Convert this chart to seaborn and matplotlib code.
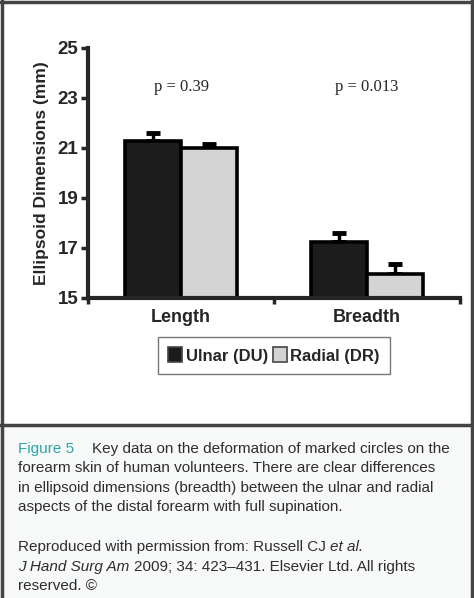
import numpy as np
import pandas as pd
import seaborn as sns
import matplotlib.pyplot as plt
from matplotlib.patches import Patch
from matplotlib.lines import Line2D

categories = ['Length', 'Breadth']
sides = ['Ulnar (DU)', 'Radial (DR)']
ulnar_vals = [21.3, 17.25]
radial_vals = [21.0, 15.95]
ulnar_err = [0.3, 0.35]
radial_err = [0.15, 0.4]
p_labels = ['p = 0.39', 'p = 0.013']

df = pd.DataFrame({
    'dimension': categories * 2,
    'side': [sides[0]] * 2 + [sides[1]] * 2,
    'value': ulnar_vals + radial_vals,
})

sns.set_style('ticks')
plt.rcParams['font.family'] = ['Liberation Sans', 'DejaVu Sans']

fig = plt.figure(figsize=(4.74, 5.98), dpi=100)
W, H = 474, 598
ax = fig.add_axes([88 / W, 1 - 298 / H, (460 - 88) / W, (298 - 48) / H])

colors = {sides[0]: '#1c1c1c', sides[1]: '#d4d4d4'}
sns.barplot(data=df, x='dimension', y='value', hue='side', order=categories,
            hue_order=sides, palette=colors, width=0.6, edgecolor='black',
            linewidth=2.6, legend=False, ax=ax, zorder=3)

# bars are ordered hue-by-hue
errs = ulnar_err + radial_err
vals = ulnar_vals + radial_vals
for patch, v, e in zip(ax.patches, vals, errs):
    xc = patch.get_x() + patch.get_width() / 2
    ax.errorbar(xc, v, yerr=[[0], [e]], fmt='none', ecolor='black',
                elinewidth=2.5, capsize=5, capthick=3.5, zorder=2)

ax.set_ylim(15, 25)
ax.set_xlim(-0.5, 1.5)
ax.set_yticks([15, 17, 19, 21, 23, 25])
ax.set_ylabel('Ellipsoid Dimensions (mm)', fontsize=12.5, fontweight='bold',
              labelpad=6)
ax.set_xlabel('')
ax.set_xticks([0, 1])
ax.set_xticklabels(categories, fontsize=13, fontweight='bold')
ax.set_xticks([-0.5, 0.5, 1.5], minor=True)
ax.tick_params(axis='x', which='major', length=0, pad=8)
ax.tick_params(axis='x', which='minor', length=4, width=2.5, direction='out')
ax.tick_params(axis='y', length=5, width=2.5, labelsize=13.5, pad=2)
for lab in ax.get_yticklabels():
    lab.set_fontweight('bold')

sns.despine(ax=ax)
for s in ['left', 'bottom']:
    ax.spines[s].set_linewidth(3)
    ax.spines[s].set_zorder(4)

for i, p in enumerate(p_labels):
    ax.text(i, 23.45, p, ha='center', va='center', fontsize=12,
            family='Liberation Serif')

handles = [Patch(facecolor=colors[s], edgecolor='#444444', linewidth=1.2)
           for s in sides]
leg = fig.legend(handles, sides, loc='center', bbox_to_anchor=(274 / W, 1 - 355.5 / H),
                 ncol=2, frameon=True, fancybox=False, handlelength=0.85,
                 handleheight=1.0, handletextpad=0.2, columnspacing=0.3,
                 borderpad=0.6, prop={'weight': 'bold', 'size': 12})
leg.get_frame().set_edgecolor('#555555')
leg.get_frame().set_linewidth(1.0)

# caption panel and outer frame
fig.patches.append(plt.Rectangle((0, 0), 1, 1 - 425 / H, transform=fig.transFigure,
                                 facecolor='#f7f8f8', edgecolor='none', zorder=-1))
frame = dict(color='#444444', linewidth=2.5, transform=fig.transFigure)
fig.add_artist(Line2D([0.004, 0.004], [0, 1], **frame))
fig.add_artist(Line2D([0.995, 0.995], [0, 1], **frame))
fig.add_artist(Line2D([0, 1], [0.997, 0.997], **frame))
fig.add_artist(Line2D([0, 1], [1 - 425 / H, 1 - 425 / H], **frame))

cap_color = '#2e2e2e'
cap_font = ['Liberation Sans', 'DejaVu Sans']
fs = 11.0
x0 = 18
renderer = fig.canvas.get_renderer()


def line(y, parts, x=x0):
    # parts: list of (text, style, color); placed one after another
    for txt, style, col in parts:
        t = fig.text(x / W, 1 - y / H, txt, color=col, fontsize=fs, va='center',
                     family=cap_font, style=style)
        x = t.get_window_extent(renderer).x1


line(449, [('Figure 5', 'normal', '#2aa6a6')])
line(449, [('Key data on the deformation of marked circles on the', 'normal', cap_color)], x=92)
body = ['forearm skin of human volunteers. There are clear differences',
        'in ellipsoid dimensions (breadth) between the ulnar and radial',
        'aspects of the distal forearm with full supination.']
for k, t in enumerate(body):
    line(468.5 + 19.5 * k, [(t, 'normal', cap_color)])
line(547, [('Reproduced with permission from: Russell CJ ', 'normal', cap_color),
           ('et al.', 'italic', cap_color)])
line(567, [('J Hand Surg Am ', 'italic', cap_color),
           ('2009; 34: 423–431. Elsevier Ltd. All rights', 'normal', cap_color)])
line(586, [('reserved. ©', 'normal', cap_color)])

fig.savefig('out.png', dpi=100)
